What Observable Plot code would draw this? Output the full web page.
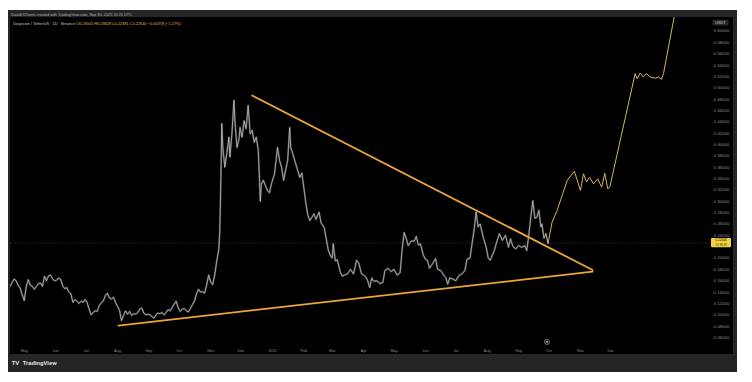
<!DOCTYPE html>
<html><head><meta charset="utf-8">
<script src="https://cdn.jsdelivr.net/npm/d3@7"></script>
<script src="https://cdn.jsdelivr.net/npm/@observablehq/plot@0.6"></script>
<style>
html,body{margin:0;padding:0;background:#fff;width:752px;height:382px;overflow:hidden;font-family:"Liberation Sans",Arial,sans-serif;}
#under,#over{position:absolute;left:0;top:0;}
#over{pointer-events:none;}
#chart{position:absolute;left:10px;top:17px;}
</style></head>
<body>
<svg id="under" width="752" height="382">
  <rect x="8" y="10" width="729" height="362" fill="#252525"/>
  <rect x="10.5" y="17" width="722.5" height="337" fill="#000"/>
</svg>
<div id="chart"></div>
<svg id="over" width="752" height="382" font-family="Liberation Sans, Arial, sans-serif"></svg>
<script>
// ---- price history (daily closes, every ~2-3 days) ----
const dates = [
"2024-04-17","2024-04-19","2024-04-21","2024-04-23","2024-04-25","2024-04-27","2024-04-29","2024-05-01","2024-05-03","2024-05-05",
"2024-05-07","2024-05-09","2024-05-11","2024-05-13","2024-05-15","2024-05-17","2024-05-19","2024-05-21","2024-05-23","2024-05-25",
"2024-05-27","2024-05-29","2024-05-31","2024-06-02","2024-06-04","2024-06-06","2024-06-08","2024-06-10","2024-06-12","2024-06-14",
"2024-06-16","2024-06-18","2024-06-20","2024-06-22","2024-06-24","2024-06-26","2024-06-28","2024-06-30","2024-07-02","2024-07-04",
"2024-07-06","2024-07-08","2024-07-10","2024-07-12","2024-07-14","2024-07-16","2024-07-18","2024-07-20","2024-07-22","2024-07-24",
"2024-07-26","2024-07-28","2024-07-30","2024-08-01","2024-08-03","2024-08-05","2024-08-07","2024-08-09","2024-08-11","2024-08-13",
"2024-08-15","2024-08-17","2024-08-19","2024-08-21","2024-08-23","2024-08-25","2024-08-27","2024-08-29","2024-08-31","2024-09-02",
"2024-09-04","2024-09-06","2024-09-08","2024-09-10","2024-09-12","2024-09-14","2024-09-16","2024-09-18","2024-09-20","2024-09-22",
"2024-09-24","2024-09-26","2024-09-28","2024-09-30","2024-10-02","2024-10-04","2024-10-06","2024-10-08","2024-10-10","2024-10-12",
"2024-10-14","2024-10-16","2024-10-18","2024-10-20","2024-10-22","2024-10-24","2024-10-26","2024-10-28","2024-10-30","2024-11-01",
"2024-11-03","2024-11-05","2024-11-07","2024-11-09","2024-11-10","2024-11-11","2024-11-12","2024-11-13","2024-11-15","2024-11-17",
"2024-11-19","2024-11-20","2024-11-22","2024-11-24","2024-11-25","2024-11-27","2024-11-29","2024-11-30","2024-12-02","2024-12-04",
"2024-12-06","2024-12-08","2024-12-10","2024-12-12","2024-12-14","2024-12-16","2024-12-18","2024-12-19","2024-12-20","2024-12-21",
"2024-12-23","2024-12-25","2024-12-27","2024-12-29","2024-12-31","2025-01-03","2025-01-06","2025-01-08","2025-01-10","2025-01-12",
"2025-01-14","2025-01-16","2025-01-18","2025-01-19","2025-01-21","2025-01-23","2025-01-25","2025-01-28","2025-01-30","2025-01-31",
"2025-02-02","2025-02-03","2025-02-05","2025-02-07","2025-02-09","2025-02-11","2025-02-13","2025-02-16","2025-02-18","2025-02-21",
"2025-02-23","2025-02-25","2025-02-27","2025-03-01","2025-03-02","2025-03-04","2025-03-06","2025-03-09","2025-03-11","2025-03-13",
"2025-03-16","2025-03-19","2025-03-22","2025-03-25","2025-03-27","2025-03-30","2025-04-01","2025-04-03","2025-04-05","2025-04-07",
"2025-04-09","2025-04-11","2025-04-14","2025-04-17","2025-04-20","2025-04-22","2025-04-25","2025-04-28","2025-05-01","2025-05-04",
"2025-05-07","2025-05-09","2025-05-11","2025-05-13","2025-05-15","2025-05-18","2025-05-21","2025-05-23","2025-05-25","2025-05-27",
"2025-05-30","2025-06-01","2025-06-03","2025-06-05","2025-06-08","2025-06-11","2025-06-13","2025-06-16","2025-06-19","2025-06-21",
"2025-06-23","2025-06-25","2025-06-28","2025-07-01","2025-07-04","2025-07-07","2025-07-10","2025-07-12","2025-07-15","2025-07-17",
"2025-07-19","2025-07-21","2025-07-23","2025-07-25","2025-07-28","2025-07-31","2025-08-02","2025-08-04","2025-08-06","2025-08-08",
"2025-08-10","2025-08-13","2025-08-16","2025-08-19","2025-08-22","2025-08-24","2025-08-26","2025-08-29","2025-09-01","2025-09-04",
"2025-09-07","2025-09-09","2025-09-11","2025-09-13","2025-09-15","2025-09-17","2025-09-19","2025-09-21","2025-09-23","2025-09-24",
"2025-09-26","2025-09-28","2025-09-30"];
const closes = [
0.150,0.157,0.163,0.160,0.152,0.147,0.135,0.125,0.150,0.162,
0.152,0.150,0.145,0.150,0.155,0.156,0.150,0.168,0.160,0.169,
0.170,0.163,0.160,0.161,0.165,0.162,0.151,0.146,0.148,0.140,
0.137,0.122,0.127,0.124,0.120,0.124,0.122,0.127,0.122,0.110,
0.100,0.104,0.107,0.106,0.116,0.121,0.124,0.134,0.138,0.130,
0.128,0.131,0.122,0.115,0.108,0.090,0.099,0.107,0.101,0.106,
0.099,0.102,0.101,0.104,0.110,0.112,0.103,0.100,0.101,0.100,
0.097,0.094,0.100,0.103,0.102,0.104,0.100,0.104,0.109,0.107,
0.113,0.119,0.124,0.112,0.106,0.110,0.111,0.107,0.105,0.111,
0.118,0.124,0.137,0.145,0.140,0.141,0.138,0.152,0.170,0.158,
0.153,0.170,0.195,0.215,0.249,0.330,0.437,0.395,0.360,0.385,
0.413,0.378,0.420,0.478,0.440,0.395,0.410,0.430,0.413,0.442,
0.428,0.469,0.419,0.425,0.404,0.413,0.390,0.348,0.300,0.330,
0.337,0.328,0.319,0.315,0.331,0.348,0.395,0.372,0.360,0.337,
0.355,0.372,0.430,0.395,0.384,0.372,0.360,0.342,0.350,0.337,
0.310,0.296,0.275,0.266,0.272,0.278,0.268,0.281,0.262,0.254,
0.235,0.215,0.205,0.200,0.225,0.195,0.197,0.175,0.168,0.170,
0.172,0.180,0.172,0.196,0.192,0.172,0.170,0.167,0.160,0.148,
0.165,0.159,0.160,0.155,0.157,0.178,0.182,0.176,0.180,0.170,
0.174,0.215,0.245,0.235,0.222,0.230,0.230,0.238,0.223,0.225,
0.205,0.198,0.196,0.182,0.190,0.199,0.180,0.178,0.170,0.166,
0.154,0.165,0.163,0.160,0.169,0.172,0.178,0.198,0.200,0.225,
0.249,0.281,0.255,0.260,0.237,0.219,0.200,0.196,0.205,0.213,
0.226,0.243,0.231,0.240,0.219,0.234,0.222,0.216,0.222,0.219,
0.222,0.213,0.240,0.272,0.301,0.270,0.272,0.284,0.255,0.260,
0.235,0.243,0.226];

// ---- trend lines ----
const upperDates = ["2024-12-12","2025-11-13"];
const upperValues = [0.4864, 0.179];
const lowerDates = ["2024-08-02","2025-11-13"];
const lowerValues = [0.0811, 0.176];

// ---- projected path ----
const projDates = ["2025-09-30","2025-10-04","2025-10-09","2025-10-19","2025-10-26","2025-11-01","2025-11-04","2025-11-07","2025-11-10","2025-11-14",
"2025-11-18","2025-11-22","2025-11-25","2025-11-28","2025-11-30","2025-12-25","2025-12-27","2025-12-30","2026-01-02","2026-01-05",
"2026-01-09","2026-01-14","2026-01-17","2026-01-20","2026-01-22","2026-02-01","2026-02-04"];
const projValues = [0.226,0.263,0.284,0.337,0.353,0.319,0.3485,0.334,0.3425,0.331,
0.3396,0.325,0.3495,0.322,0.325,0.525,0.516,0.526,0.519,0.525,
0.519,0.517,0.519,0.515,0.525,0.620,0.645];

// ---- ticks ----
const yTicks = [0.06,0.08,0.10,0.12,0.14,0.16,0.18,0.20,0.22,0.24,0.26,0.28,0.30,0.32,0.34,0.36,0.38,0.40,0.42,0.44,0.46,0.48,0.50,0.52,0.54,0.56,0.58,0.60];
const xTickDates = ["2024-05-01","2024-06-01","2024-07-01","2024-08-01","2024-09-01","2024-10-01","2024-11-01","2024-12-01","2025-01-01","2025-02-01",
"2025-03-01","2025-04-01","2025-05-01","2025-06-01","2025-07-01","2025-08-01","2025-09-01","2025-10-01","2025-11-01","2025-12-01"];
const xTickLabels = ["May","Jun","Jul","Aug","Sep","Oct","Nov","Dec","2025","Feb","Mar","Apr","May","Jun","Jul","Aug","Sep","Oct","Nov","Dec"];

const lastPrice = 0.22640;

const price = dates.map((d,i)=>({date:new Date(d+"T00:00Z"), close:closes[i]}));
const upper = upperDates.map((d,i)=>({date:new Date(d+"T00:00Z"), v:upperValues[i]}));
const lower = lowerDates.map((d,i)=>({date:new Date(d+"T00:00Z"), v:lowerValues[i]}));
const proj = projDates.map((d,i)=>({date:new Date(d+"T00:00Z"), v:projValues[i]}));
const xt = xTickDates.map(d=>new Date(d+"T00:00Z"));
const labelOf = new Map(xt.map((d,i)=>[+d, xTickLabels[i]]));
// the tick hidden behind the last-price tag in the reference
const visibleYTicks = yTicks.filter(t => Math.abs(t - lastPrice) > 0.01);

const chart = Plot.plot({
  width: 723, height: 337,
  marginLeft: 0, marginRight: 25, marginTop: 0, marginBottom: 10,
  style: {background:"#000", color:"#8a8a8a", fontFamily:"Liberation Sans, Arial, sans-serif", overflow:"visible"},
  x: {type:"utc", domain:[new Date("2024-04-17T10:00Z"), new Date("2026-03-07T10:00Z")], axis:null},
  y: {domain:[0.04767, 0.6239], axis:null},
  marks: [
    Plot.ruleY([lastPrice], {stroke:"#555", strokeWidth:0.6, strokeDasharray:"1,1.5"}),
    Plot.line(price, {x:"date", y:"close", stroke:"#3a3a3a", strokeWidth:2, clip:true}),
    Plot.line(price, {x:"date", y:"close", stroke:"#cfcfcf", strokeWidth:0.7, clip:true}),
    Plot.line(upper, {x:"date", y:"v", stroke:"#eda53a", strokeWidth:1.8}),
    Plot.line(lower, {x:"date", y:"v", stroke:"#eda53a", strokeWidth:1.8}),
    Plot.line(proj, {x:"date", y:"v", stroke:"#d8b457", strokeWidth:1, clip:true}),
    Plot.axisY(visibleYTicks, {anchor:"right", tickSize:0, tickPadding:5, tickFormat:d3.format(".5f"), fontSize:4.4, fill:"#8c8c8c"}),
    Plot.axisX(xt, {anchor:"bottom", tickSize:0, tickPadding:5, tickFormat:d=>labelOf.get(+d), fontSize:3.8, fill:"#8c8c8c"})
  ]
});
document.getElementById("chart").appendChild(chart);

// ---- overlay texts ----
const yPix = chart.scale("y").apply(lastPrice) + 17;
const over = d3.select("#over");
over.append("text").attr("x",11).attr("y",15.8).attr("font-size",3.9).attr("fill","#b5b5b5")
  .attr("textLength",121).attr("lengthAdjust","spacingAndGlyphs")
  .text("DavidOCharts created with TradingView.com, Sep 30, 2025 10:21 UTC");
const leg = over.append("text").attr("x",13.3).attr("y",24.6).attr("font-size",3.9);
leg.append("tspan").attr("fill","#c4c4c4").text("Dogecoin / TetherUS · 1D · Binance  ");
leg.append("tspan").attr("fill","#e6b24a").text("O0.23001 H0.23628 L0.22381 C0.22640 −0.00378 (−1.27%)");
// USDT box
over.append("rect").attr("x",712.5).attr("y",19.8).attr("width",16).attr("height",5.6).attr("rx",0.8).attr("fill","#2a2a2a");
over.append("text").attr("x",720.5).attr("y",23.8).attr("font-size",3.8).attr("text-anchor","middle").attr("fill","#c8c8c8").text("USDT");
// last price tag
over.append("rect").attr("x",711).attr("y",yPix-4.6).attr("width",20).attr("height",9.2).attr("rx",0.8).attr("fill","#f0d23c");
over.append("text").attr("x",721).attr("y",yPix-1.1).attr("font-size",3.2).attr("text-anchor","middle").attr("fill","#111").text("0.22640");
over.append("text").attr("x",721).attr("y",yPix+3.6).attr("font-size",2.9).attr("text-anchor","middle").attr("fill","#333").text("13:38:49");
// go-to-realtime icon
over.append("circle").attr("cx",547).attr("cy",342).attr("r",2.6).attr("fill","#2a2a2a").attr("stroke","#8a8a8a").attr("stroke-width",0.6);
over.append("circle").attr("cx",547).attr("cy",342).attr("r",1).attr("fill","#9a9a9a");
// TradingView footer
over.append("text").attr("x",11.7).attr("y",365.2).attr("font-size",6).attr("font-weight","bold").attr("fill","#e6e6e6").text("TV");
over.append("text").attr("x",22.7).attr("y",365.2).attr("font-size",6).attr("font-weight","bold").attr("fill","#e6e6e6")
  .attr("textLength",34).attr("lengthAdjust","spacingAndGlyphs").text("TradingView");
</script>
</body></html>
